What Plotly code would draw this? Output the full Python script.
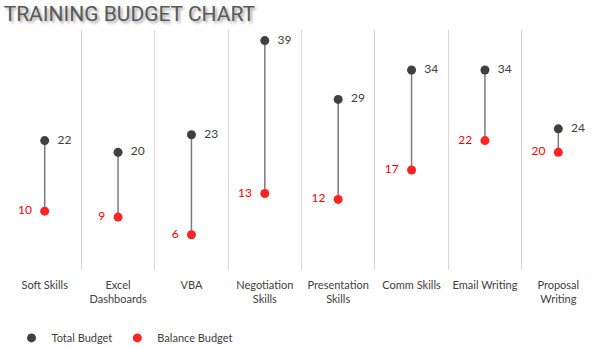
import plotly.graph_objects as go

categories = ["Soft Skills", "Excel<br>Dashboards", "VBA", "Negotiation<br>Skills",
              "Presentation<br>Skills", "Comm Skills", "Email Writing", "Proposal<br>Writing"]
total_budget = [22, 20, 23, 39, 29, 34, 34, 24]
balance_budget = [10, 9, 6, 13, 12, 17, 22, 20]

x = list(range(len(categories)))

line_x, line_y = [], []
for i, (t, b) in enumerate(zip(total_budget, balance_budget)):
    line_x += [i, i, None]
    line_y += [b, t, None]

FONT = "Lato, 'Open Sans', sans-serif"

fig = go.Figure()
fig.add_trace(go.Scatter(x=line_x, y=line_y, mode="lines",
                         line=dict(color="#7a7a7a", width=1.5),
                         showlegend=False, hoverinfo="skip"))
fig.add_trace(go.Scatter(x=x, y=total_budget, mode="markers+text", name="Total Budget",
                         marker=dict(color="#404040", size=9),
                         text=["  " + str(v) for v in total_budget],
                         textposition="middle right",
                         textfont=dict(color="#404040", size=12, family=FONT)))
fig.add_trace(go.Scatter(x=x, y=balance_budget, mode="markers+text", name="Balance Budget",
                         marker=dict(color="#ff2424", size=9),
                         text=[str(v) + "  " for v in balance_budget],
                         textposition="middle left",
                         textfont=dict(color="#ff0000", size=12, family=FONT)))

fig.update_layout(
    width=605, height=349,
    margin=dict(l=8, r=10, t=30, b=79, autoexpand=False),
    paper_bgcolor="white", plot_bgcolor="white",
    font=dict(family=FONT, color="#404040", size=11),
    title=dict(text="TRAINING BUDGET CHART", x=0.006, xanchor="left", y=0.96, yanchor="middle",
               font=dict(size=21, color="#595959", family="Roboto, sans-serif", weight=400,
                         shadow="2px 2px 3px #a0a0a0")),
    xaxis=dict(range=[-0.5, len(categories) - 0.5], tickvals=x, ticktext=categories,
               showgrid=False, zeroline=False, showline=False, ticks="",
               ticklabelstandoff=7, automargin=False,
               tickfont=dict(size=11, color="#404040"),
               minor=dict(tick0=-0.5, dtick=1, showgrid=True, gridcolor="#d9d9d9", gridwidth=1)),
    yaxis=dict(range=[0, 40.8], showgrid=False, zeroline=False, showticklabels=False, showline=False),
    legend=dict(orientation="h", x=0.006, xanchor="left", y=-0.283, yanchor="middle",
                font=dict(size=11, color="#404040"), itemwidth=30),
)

fig.write_html("out.html")
